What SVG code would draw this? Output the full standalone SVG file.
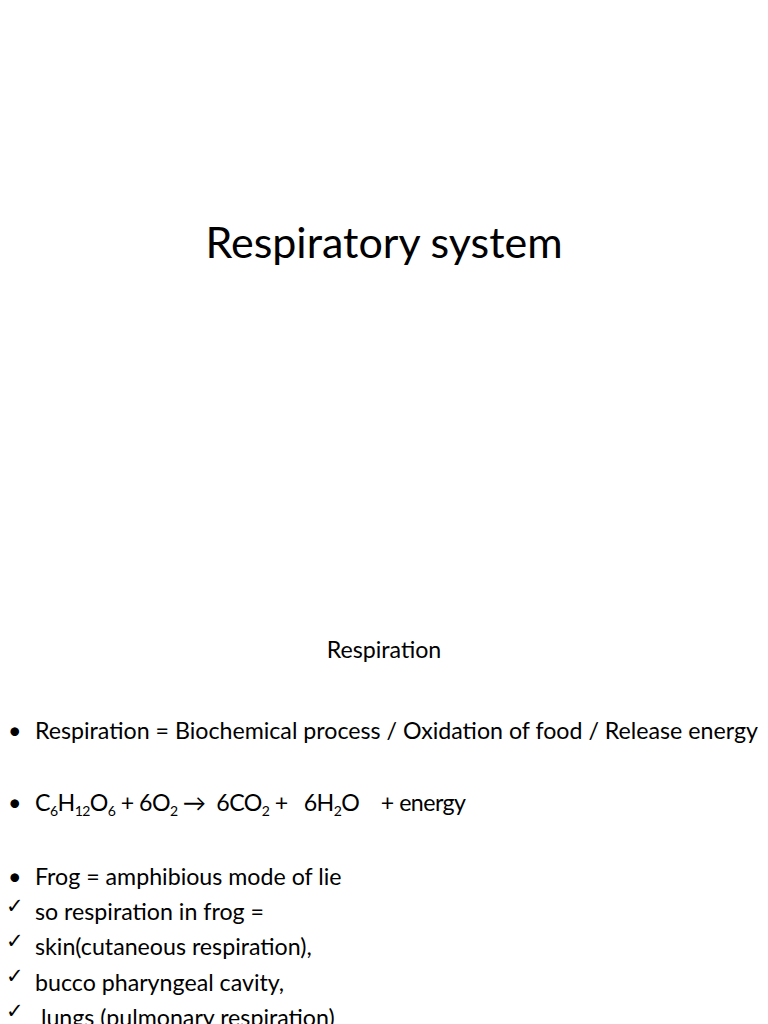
<svg xmlns="http://www.w3.org/2000/svg" width="768" height="1024" viewBox="0 0 768 1024">
<style>
text{font-family:Lato,"Liberation Sans",sans-serif;fill:#000;white-space:pre}
.b{font-size:23.2px}
.s{font-size:14px}
.c{font-size:21px;font-family:"DejaVu Sans",sans-serif}
</style>
<rect width="768" height="1024" fill="#fff"/>
<text x="384" y="258" font-size="43" text-anchor="middle">Respiratory system</text>
<text x="384" y="658" class="b" text-anchor="middle">Respiration</text>
<text x="8" y="739" class="b">•</text>
<text x="35" y="739" class="b">Respiration = Biochemical process / Oxidation of food / Release energy</text>
<text x="8" y="811" class="b">•</text>
<text x="35" y="811" class="b" textLength="431" lengthAdjust="spacing">C<tspan class="s" dy="5">6</tspan><tspan dy="-5">H</tspan><tspan class="s" dy="5">12</tspan><tspan dy="-5">O</tspan><tspan class="s" dy="5">6</tspan><tspan dy="-5"> + 6O</tspan><tspan class="s" dy="5">2</tspan><tspan dy="-5"> →  6CO</tspan><tspan class="s" dy="5">2</tspan><tspan dy="-5"> +   6H</tspan><tspan class="s" dy="5">2</tspan><tspan dy="-5">O    + energy</tspan></text>
<text x="8" y="885" class="b">•</text>
<text x="35" y="885" class="b">Frog = amphibious mode of lie</text>
<text x="6" y="913" class="c">✓</text>
<text x="35" y="920" class="b">so respiration in frog =</text>
<text x="6" y="948" class="c">✓</text>
<text x="35" y="955" class="b">skin(cutaneous respiration),</text>
<text x="6" y="983" class="c">✓</text>
<text x="35" y="991" class="b">bucco pharyngeal cavity,</text>
<text x="6" y="1018" class="c">✓</text>
<text x="35" y="1026" class="b"> lungs (pulmonary respiration)</text>
</svg>
